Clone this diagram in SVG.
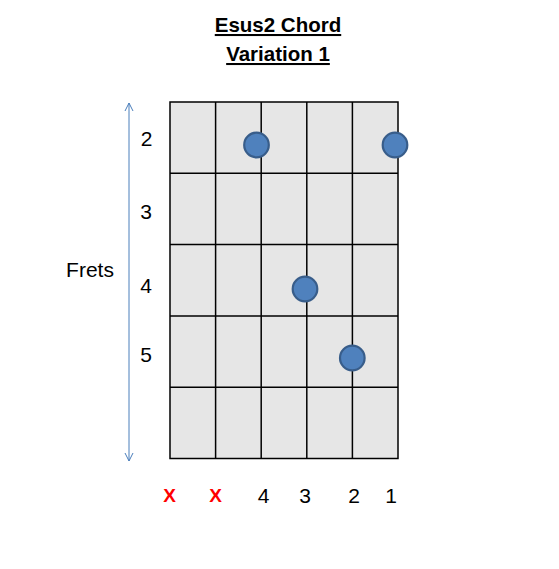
<svg xmlns="http://www.w3.org/2000/svg" width="559" height="569" viewBox="0 0 559 569">
<style>
.t{font-family:"Liberation Sans",Arial,sans-serif;font-size:21px;fill:#000;text-anchor:middle}
.title{font-weight:bold;text-decoration:underline;font-size:20.5px}
.x{font-weight:bold;fill:#ff0000;font-size:19px}
.grid{stroke:#000;stroke-width:1.5;fill:none}
.dot{fill:#4f81bd;stroke:#385d8a;stroke-width:2.2}
.arr{stroke:#4a7ebb;stroke-width:1;fill:none}
</style>
<defs>
<marker id="ah" viewBox="0 0 10 10" refX="9" refY="5" markerWidth="10" markerHeight="10" markerUnits="userSpaceOnUse" orient="auto-start-reverse">
<path d="M1,1 L9,5 L1,9" fill="none" stroke="#4a7ebb" stroke-width="1"/>
</marker>
</defs>
<rect width="559" height="569" fill="#fff"/>
<g id="title">
<text class="t title" x="278" y="32">Esus2 Chord</text>
<text class="t title" x="278" y="61">Variation 1</text>
</g>
<g id="fretboard">
<rect x="170" y="102" width="228" height="356.5" fill="#e6e6e6"/>
<g class="grid">
<rect x="170" y="102" width="228" height="356.5"/>
<line x1="215.6" y1="102" x2="215.6" y2="458.5"/>
<line x1="261.2" y1="102" x2="261.2" y2="458.5"/>
<line x1="306.8" y1="102" x2="306.8" y2="458.5"/>
<line x1="352.4" y1="102" x2="352.4" y2="458.5"/>
<line x1="170" y1="173.3" x2="398" y2="173.3"/>
<line x1="170" y1="244.6" x2="398" y2="244.6"/>
<line x1="170" y1="315.9" x2="398" y2="315.9"/>
<line x1="170" y1="387.2" x2="398" y2="387.2"/>
</g>
</g>
<g id="dots">
<circle id="dot1" class="dot" cx="256.5" cy="145" r="12.3"/>
<circle id="dot2" class="dot" cx="395" cy="145" r="12.3"/>
<circle id="dot3" class="dot" cx="305" cy="289" r="12.3"/>
<circle id="dot4" class="dot" cx="352.3" cy="358" r="12.3"/>
</g>
<g id="connectors">
<line class="arr" x1="129" y1="103" x2="129" y2="461" marker-start="url(#ah)" marker-end="url(#ah)"/>
</g>
<g id="fret-labels">
<text class="t" x="90" y="277">Frets</text>
<text class="t" x="146.5" y="146">2</text>
<text class="t" x="146" y="219">3</text>
<text class="t" x="146" y="293">4</text>
<text class="t" x="146" y="362">5</text>
</g>
<g id="string-labels">
<text class="t x" x="169.5" y="502">X</text>
<text class="t x" x="215.5" y="502">X</text>
<text class="t" x="263.5" y="503">4</text>
<text class="t" x="305" y="503">3</text>
<text class="t" x="354" y="503">2</text>
<text class="t" x="391" y="503">1</text>
</g>
</svg>
